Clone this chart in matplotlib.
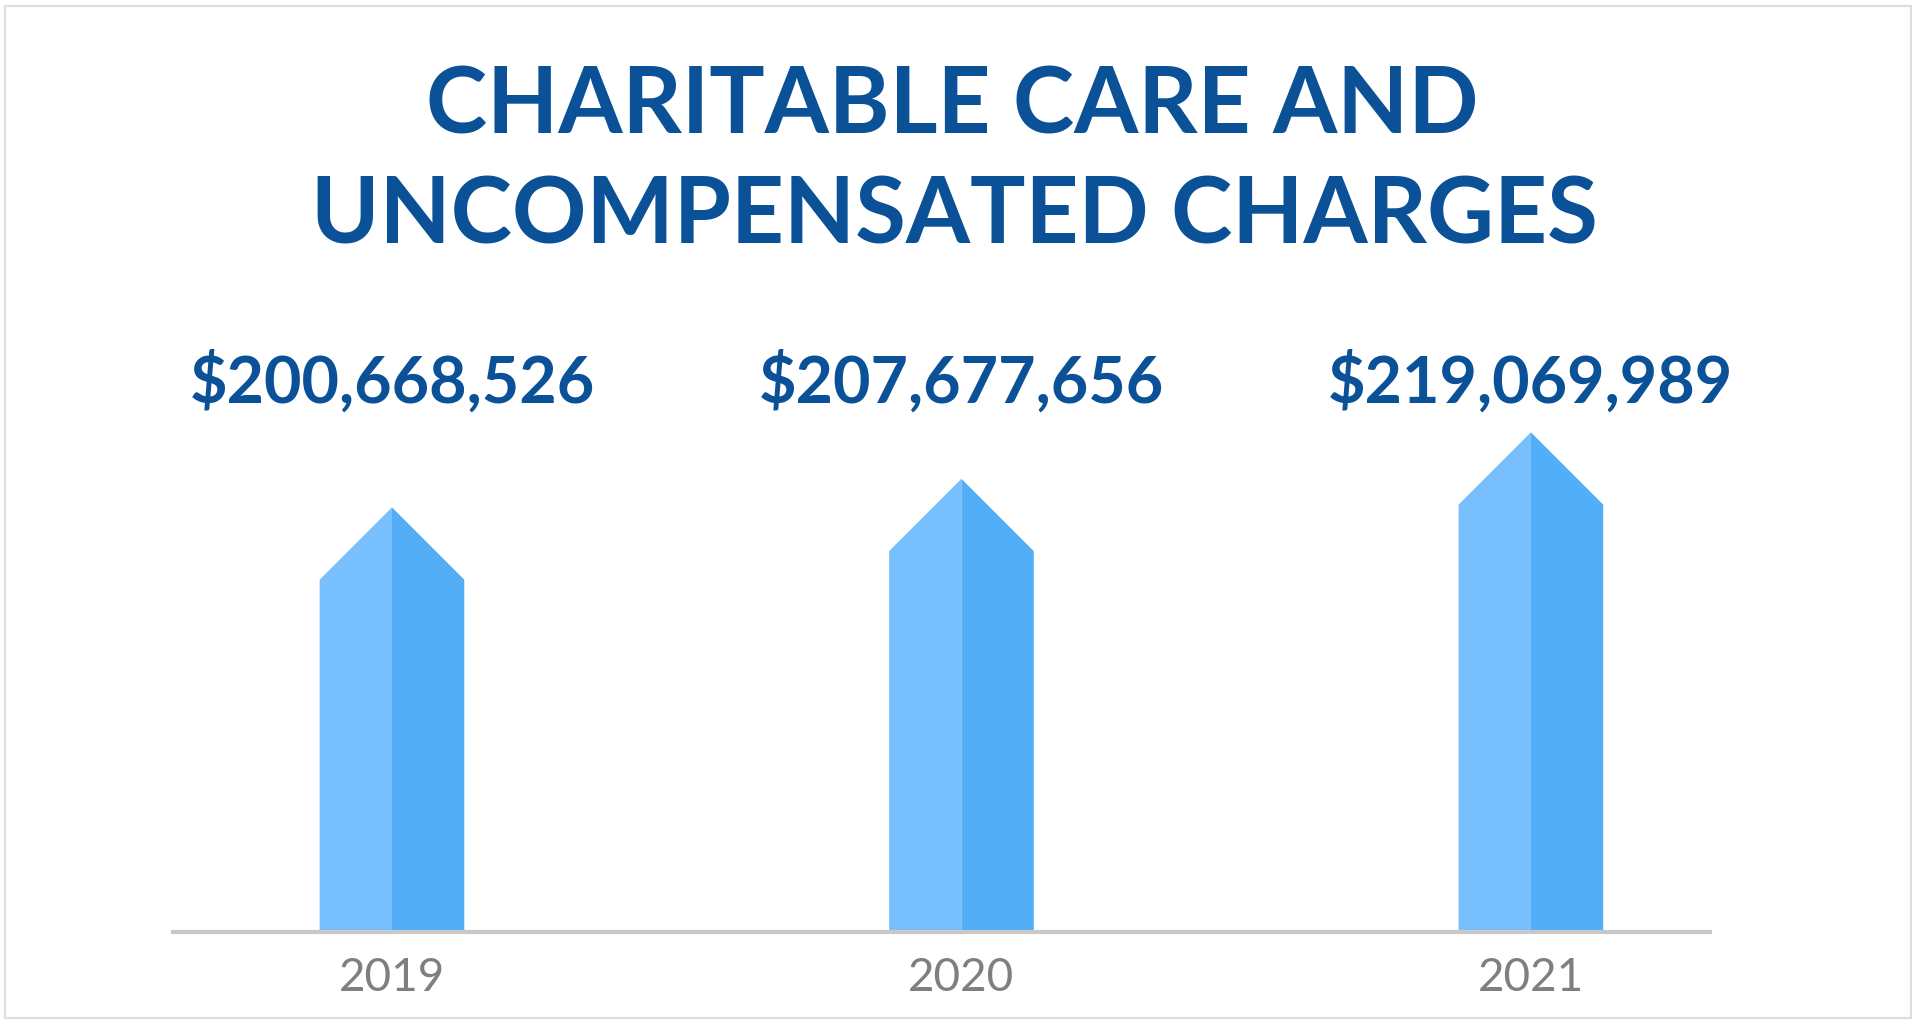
import matplotlib.pyplot as plt
from matplotlib.patches import Polygon, Rectangle
from matplotlib.transforms import blended_transform_factory

years = ["2019", "2020", "2021"]
charges = [200668526, 207677656, 219069989]
title_lines = ["CHARITABLE CARE AND", "UNCOMPENSATED CHARGES"]

W, H = 1920, 1036
fig = plt.figure(figsize=(W / 100, H / 100), dpi=100)
fig.patch.set_facecolor("white")

# light frame round the whole graphic
fig.patches.append(Rectangle((5 / W, 1 - 1018 / H), 1906 / W, 1012 / H,
                             transform=fig.transFigure, fill=False,
                             edgecolor="#dddddd", linewidth=1.5))

ax = fig.add_axes([173 / W, 1 - 932 / H, 1537 / W, 682 / H])
ax.set_xlim(-0.3845, 2.3145)
ax.set_ylim(114.3e6, 281.5e6)
for s in ["top", "left", "right"]:
    ax.spines[s].set_visible(False)
ax.spines["bottom"].set_color("#c8c8c8")
ax.spines["bottom"].set_linewidth(3)
ax.set_yticks([])
ax.set_xticks(range(len(years)))
ax.set_xticklabels(years, family="Lato", fontsize=33, color="#7f7f7f")
ax.tick_params(axis="x", length=0, pad=18)

# 45 degree tip: convert half width in x units to y units
half = 0.127
bb = ax.get_position()
px_x = bb.width * W / (ax.get_xlim()[1] - ax.get_xlim()[0])
px_y = bb.height * H / (ax.get_ylim()[1] - ax.get_ylim()[0])
tip = half * px_x / px_y
y0 = ax.get_ylim()[0]

light, dark = "#77bffd", "#52aef7"
for i, v in enumerate(charges):
    ax.add_patch(Polygon([(i - half, y0), (i - half, v), (i, v + tip), (i, y0)],
                         closed=True, facecolor=light, edgecolor="none"))
    ax.add_patch(Polygon([(i, y0), (i, v + tip), (i + half, v), (i + half, y0)],
                         closed=True, facecolor=dark, edgecolor="none"))

navy = "#0b5197"
trans = blended_transform_factory(ax.transData, fig.transFigure)
for i, v in enumerate(charges):
    ax.text(i, 1 - 403 / H, "${:,}".format(v), transform=trans,
            ha="center", va="baseline", family="Lato", fontweight="bold",
            fontsize=46.5, color=navy)

fig.text(952 / W, 1 - 133 / H, title_lines[0], ha="center", va="baseline",
         family="Lato", fontweight="bold", fontsize=66.5, color=navy)
fig.text(954 / W, 1 - 243 / H, title_lines[1], ha="center", va="baseline",
         family="Lato", fontweight="bold", fontsize=66.5, color=navy)

fig.savefig("out.png", dpi=100, facecolor="white")
